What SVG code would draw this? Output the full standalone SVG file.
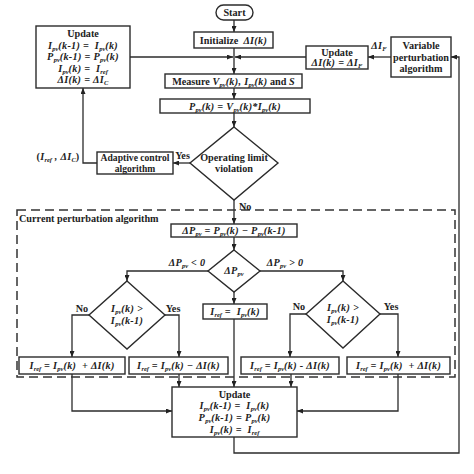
<svg xmlns="http://www.w3.org/2000/svg" width="474" height="474" viewBox="0 0 474 474">
<defs>
<style>
.b{fill:#fff;stroke:#2b2b2b;stroke-width:1.4}
.c{fill:none;stroke:#2b2b2b;stroke-width:1.3}
.d{fill:none;stroke:#333;stroke-width:1.5;stroke-dasharray:9,5}
.t{font-family:"Liberation Serif",serif;font-size:10.2px;font-weight:bold;fill:#222;text-anchor:middle}
.l{text-anchor:start}
.i{font-style:italic;letter-spacing:0.3px}
.n{font-style:normal}
.s{font-size:6.5px;letter-spacing:0}
.sm{font-size:9.6px}
</style>
<marker id="a" markerWidth="6" markerHeight="5" refX="6" refY="2.5" orient="auto" markerUnits="userSpaceOnUse">
<path d="M0,0 L6,2.5 L0,5 z" fill="#222"/>
</marker>
</defs>
<rect width="474" height="474" fill="#fff"/>

<g id="connectors" class="c" marker-end="url(#a)">
<path d="M234,20 V32"/>
<path d="M234,48 V74"/>
<path d="M130,57 H233"/>
<path d="M306,57 H235"/>
<path d="M391,57 H368"/>
<path d="M234,88 V99"/>
<path d="M234,113 V127"/>
<path d="M190,163 H173"/>
<path d="M97,163 H83 V88"/>
<path d="M234,200 V224"/>
<path d="M234,237 V250"/>
<path d="M208,271 H127 V281"/>
<path d="M260,271 H343 V281"/>
<path d="M89,315 H72 V357"/>
<path d="M165,315 H179 V357"/>
<path d="M306,314 H290 V357"/>
<path d="M380,314 H398 V357"/>
<path d="M234,292 V304"/>
<path d="M234,319 V387"/>
<path d="M72,374 V411 H172"/>
<path d="M179,374 V387"/>
<path d="M291,374 V387"/>
<path d="M398,374 V411 H297"/>
<path d="M234,437 V453 H459 V57 H451"/>
</g>

<g id="region">
<rect class="d" x="17" y="210" width="438" height="167"/>
<text class="t l n" x="19" y="222">Current perturbation algorithm</text>
</g>

<g id="start">
<rect class="b" x="216" y="5" width="37" height="15" rx="7.5"/>
<text class="t" x="234.5" y="16">Start</text>
</g>

<g id="init">
<rect class="b" x="194" y="32" width="79" height="16"/>
<text class="t" x="233.5" y="43.5">Initialize&#160;&#160;<tspan class="i">ΔI(k)</tspan></text>
</g>

<g id="update-left">
<rect class="b" x="36" y="26" width="94" height="62"/>
<text class="t" x="83" y="37">Update</text>
<text class="t i" x="83" y="48.5">I<tspan class="s" dy="2">pv</tspan><tspan dy="-2">(k-1)&#160;=&#160;&#160;I</tspan><tspan class="s" dy="2">pv</tspan><tspan dy="-2">(k)</tspan></text>
<text class="t i" x="83" y="60">P<tspan class="s" dy="2">pv</tspan><tspan dy="-2">(k-1)&#160;=&#160;P</tspan><tspan class="s" dy="2">pv</tspan><tspan dy="-2">(k)</tspan></text>
<text class="t i" x="83" y="71.5">I<tspan class="s" dy="2">pv</tspan><tspan dy="-2">(k)&#160;=&#160;&#160;I</tspan><tspan class="s" dy="2">ref</tspan></text>
<text class="t i" x="83" y="83">ΔI(k)&#160;=&#160;ΔI<tspan class="s" dy="2">C</tspan></text>
</g>

<g id="update-right">
<rect class="b" x="306" y="46" width="62" height="23"/>
<text class="t" x="337" y="56">Update</text>
<text class="t i" x="337" y="66">ΔI(k)&#160;=&#160;ΔI<tspan class="s" dy="2">F</tspan></text>
</g>
<text class="t i" x="379" y="49">ΔI<tspan class="s" dy="2">F</tspan></text>

<g id="variable">
<rect class="b" x="391" y="37" width="60" height="40"/>
<text class="t" x="421" y="49">Variable</text>
<text class="t" x="421" y="60.5">perturbation</text>
<text class="t" x="421" y="72">algorithm</text>
</g>

<g id="measure">
<rect class="b" x="165" y="74" width="137" height="14"/>
<text class="t" x="233.5" y="84.5">Measure&#160;<tspan class="i">V<tspan class="s" dy="2">pv</tspan><tspan dy="-2">(k),&#160;I</tspan><tspan class="s" dy="2">pv</tspan><tspan dy="-2">(k)</tspan></tspan>&#160;and&#160;<tspan class="i">S</tspan></text>
</g>

<g id="power">
<rect class="b" x="160" y="99" width="150" height="14"/>
<text class="t i" x="235" y="109.5">P<tspan class="s" dy="2">pv</tspan><tspan dy="-2">(k)&#160;=&#160;V</tspan><tspan class="s" dy="2">pv</tspan><tspan dy="-2">(k)*I</tspan><tspan class="s" dy="2">pv</tspan><tspan dy="-2">(k)</tspan></text>
</g>

<g id="limit">
<polygon class="b" points="234,127 278,163 234,200 190,163"/>
<text class="t" x="234" y="160.5">Operating limit</text>
<text class="t" x="234" y="172">violation</text>
</g>
<text class="t" x="182.5" y="159">Yes</text>
<text class="t l" x="239" y="210">No</text>

<g id="adaptive">
<rect class="b" x="97" y="152" width="76" height="22"/>
<text class="t sm" x="135" y="161">Adaptive control</text>
<text class="t sm" x="135" y="172">algorithm</text>
</g>
<text class="t i" x="58" y="160"><tspan class="n">(</tspan>I<tspan class="s" dy="2">ref</tspan><tspan dy="-2">&#160;,&#160;ΔI</tspan><tspan class="s" dy="2">C</tspan><tspan class="n" dy="-2">)</tspan></text>

<g id="dp">
<rect class="b" x="171" y="224" width="126" height="13"/>
<text class="t i" x="234" y="234">ΔP<tspan class="s" dy="2">pv</tspan><tspan dy="-2">&#160;=&#160;P</tspan><tspan class="s" dy="2">pv</tspan><tspan dy="-2">(k)&#160;−&#160;P</tspan><tspan class="s" dy="2">pv</tspan><tspan dy="-2">(k-1)</tspan></text>
</g>

<g id="dp-decision">
<polygon class="b" points="234,250 260,271 234,292 208,271"/>
<text class="t i" x="234" y="274">ΔP<tspan class="s" dy="2">pv</tspan></text>
</g>
<text class="t i" x="187" y="266">ΔP<tspan class="s" dy="2">pv</tspan><tspan dy="-2">&#160;&lt;&#160;0</tspan></text>
<text class="t i" x="285" y="266">ΔP<tspan class="s" dy="2">pv</tspan><tspan dy="-2">&#160;&gt;&#160;0</tspan></text>

<g id="cmp-left">
<polygon class="b" points="127,281 165,315 127,349 89,315"/>
<text class="t i" x="127" y="312">I<tspan class="s" dy="2">pv</tspan><tspan dy="-2">(k)&#160;&gt;</tspan></text>
<text class="t i" x="127" y="323.5">I<tspan class="s" dy="2">pv</tspan><tspan dy="-2">(k-1)</tspan></text>
</g>
<text class="t" x="82" y="312">No</text>
<text class="t" x="173" y="312">Yes</text>

<g id="cmp-right">
<polygon class="b" points="343,281 380,314 343,348 306,314"/>
<text class="t i" x="343" y="311">I<tspan class="s" dy="2">pv</tspan><tspan dy="-2">(k)&#160;&gt;</tspan></text>
<text class="t i" x="343" y="322.5">I<tspan class="s" dy="2">pv</tspan><tspan dy="-2">(k-1)</tspan></text>
</g>
<text class="t" x="299" y="310">No</text>
<text class="t" x="391" y="310">Yes</text>

<g id="iref-hold">
<rect class="b" x="203" y="304" width="64" height="15"/>
<text class="t i" x="235" y="315">I<tspan class="s" dy="2">ref</tspan><tspan dy="-2">&#160;=&#160;&#160;I</tspan><tspan class="s" dy="2">pv</tspan><tspan dy="-2">(k)</tspan></text>
</g>

<g id="iref-1">
<rect class="b" x="19" y="357" width="106" height="17"/>
<text class="t i" x="72" y="369">I<tspan class="s" dy="2">ref</tspan><tspan dy="-2">&#160;=&#160;I</tspan><tspan class="s" dy="2">pv</tspan><tspan dy="-2">(k)&#160;&#160;+&#160;ΔI(k)</tspan></text>
</g>
<g id="iref-2">
<rect class="b" x="129" y="357" width="99" height="17"/>
<text class="t i" x="178.5" y="369">I<tspan class="s" dy="2">ref</tspan><tspan dy="-2">&#160;=&#160;I</tspan><tspan class="s" dy="2">pv</tspan><tspan dy="-2">(k)&#160;−&#160;ΔI(k)</tspan></text>
</g>
<g id="iref-3">
<rect class="b" x="241" y="357" width="98" height="17"/>
<text class="t i" x="290" y="369">I<tspan class="s" dy="2">ref</tspan><tspan dy="-2">&#160;=&#160;I</tspan><tspan class="s" dy="2">pv</tspan><tspan dy="-2">(k)&#160;-&#160;ΔI(k)</tspan></text>
</g>
<g id="iref-4">
<rect class="b" x="347" y="357" width="103" height="17"/>
<text class="t i" x="398.5" y="369">I<tspan class="s" dy="2">ref</tspan><tspan dy="-2">&#160;=&#160;I</tspan><tspan class="s" dy="2">pv</tspan><tspan dy="-2">(k)&#160;&#160;+&#160;ΔI(k)</tspan></text>
</g>

<g id="update-bottom">
<rect class="b" x="172" y="387" width="125" height="50"/>
<text class="t" x="234.5" y="398">Update</text>
<text class="t i" x="234.5" y="408.5">I<tspan class="s" dy="2">pv</tspan><tspan dy="-2">(k-1)&#160;=&#160;&#160;I</tspan><tspan class="s" dy="2">pv</tspan><tspan dy="-2">(k)</tspan></text>
<text class="t i" x="234.5" y="421">P<tspan class="s" dy="2">pv</tspan><tspan dy="-2">(k-1)&#160;=&#160;P</tspan><tspan class="s" dy="2">pv</tspan><tspan dy="-2">(k)</tspan></text>
<text class="t i" x="234.5" y="433">I<tspan class="s" dy="2">pv</tspan><tspan dy="-2">(k)&#160;=&#160;&#160;I</tspan><tspan class="s" dy="2">ref</tspan></text>
</g>
</svg>
